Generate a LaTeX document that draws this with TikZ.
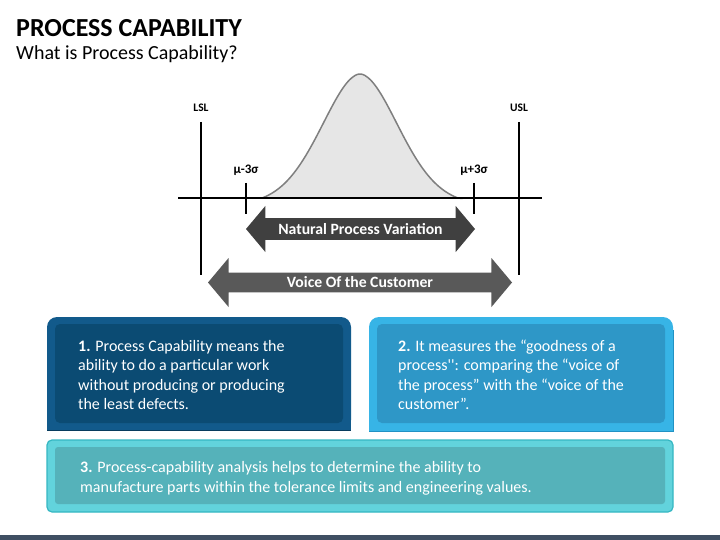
\documentclass[tikz,border=0pt]{standalone}
\usepackage{fontspec}
\setmainfont{Carlito}
\usetikzlibrary{positioning,shapes.arrows}

\definecolor{BellFill}{HTML}{E6E6E6}
\definecolor{BellLine}{HTML}{7F7F7F}
\definecolor{ArrowDark}{HTML}{404040}
\definecolor{ArrowMid}{HTML}{595959}
\definecolor{OneFrame}{HTML}{125A8B}
\definecolor{OneFill}{HTML}{0B4B73}
\definecolor{OneEdge}{HTML}{083C5E}
\definecolor{TwoFrame}{HTML}{37B4E6}
\definecolor{TwoFill}{HTML}{2E97C7}
\definecolor{TwoEdge}{HTML}{2192C4}
\definecolor{ThreeFrame}{HTML}{62D3DC}
\definecolor{ThreeFill}{HTML}{55B2BA}
\definecolor{ThreeEdge}{HTML}{35B7C2}
\definecolor{FootBar}{HTML}{3F4F63}

\tikzstyle{LimitLine}=[line width=1.8pt]
\tikzstyle{LimitLabel}=[inner sep=0pt, anchor=base, font=\fontsize{11.5}{13}\selectfont\bfseries]
\tikzstyle{SigmaLabel}=[LimitLabel, font=\fontsize{13}{15}\selectfont\bfseries]
\tikzstyle{SpanArrow}=[double arrow, double arrow tip angle=100, inner sep=0pt, text=white, font=\fontsize{15.7}{18}\selectfont\bfseries]
\tikzstyle{PointText}=[inner sep=0pt, anchor=base west, align=left, text=white, font=\fontsize{16}{19.5}\selectfont]

\begin{document}
\begin{tikzpicture}[x=1pt, y=-1pt]
			\useasboundingbox (0,0) rectangle (720,540);

			%Titles
			\node[inner sep=0pt, anchor=base west, font=\fontsize{26}{30}\selectfont\bfseries] (title) at (16,37) {PROCESS CAPABILITY};
			\node[inner sep=0pt, anchor=base west, font=\fontsize{20}{24}\selectfont] (subtitle) at (16,60) {What is Process Capability?};

			%Bell curve
			\filldraw[fill=BellFill, draw=BellLine, line width=1.5pt] (261,198) -- plot[domain=-98:98, samples=100] ({360+\x},{198-124*(exp(-pow(abs(\x)/55,1.86))-0.054)/0.946}) -- (457,198);

			%Axis and limits
			\coordinate (axisleft) at (178,198);
			\coordinate (axisright) at (542,198);
			\draw[LimitLine] (axisleft) -- (axisright);

			\node[LimitLabel] (lsl) at (201,112) {LSL};
			\node[LimitLabel] (usl) at (519,112) {USL};
			\node[SigmaLabel] (lowsigma) at (246,174) {μ-3σ};
			\node[SigmaLabel] (highsigma) at (474,174) {μ+3σ};

			\draw[LimitLine] (201,122) -- (201,275);
			\draw[LimitLine] (519,122) -- (519,275);
			\draw[LimitLine] (246,183) -- (246,214);
			\draw[LimitLine] (474,183) -- (474,214);

			%Arrows
			\node[SpanArrow, fill=ArrowDark, minimum height=229pt, minimum width=46pt, double arrow head extend=6.5pt] (natural) at (360.5,229) {Natural Process Variation};
			\node[SpanArrow, fill=ArrowMid, minimum height=304pt, minimum width=49pt, double arrow head extend=8.5pt] (voice) at (360,282.5) {Voice Of the Customer};

			%Boxes
			\fill[OneFrame, rounded corners=10pt] (47,317) rectangle (351,430);
			\fill[OneFrame] (47,400) rectangle (351,430);
			\draw[OneEdge, line width=1pt] (47,430) -- (351,430);
			\fill[OneFill, rounded corners=5pt] (55,324) rectangle (343,423);

			\fill[TwoFrame, rounded corners=10pt] (369,317) rectangle (673,431);
			\fill[TwoFrame] (369,400) rectangle (673,431);
			\draw[TwoEdge, line width=1pt] (369,431) -- (673,431) -- (673,330);
			\fill[TwoFill, rounded corners=5pt] (377,324) rectangle (665,423);

			\filldraw[fill=ThreeFrame, draw=ThreeEdge, line width=1.2pt, rounded corners=5pt] (47,440) rectangle (673,512);
			\fill[ThreeFill, rounded corners=3pt] (55,447) rectangle (665,504);

			%Texts (anchored at the last baseline)
			\node[PointText] (pointone) at (78,409.5) {\textbf{1.} Process Capability means the\\ability to do a particular work\\without producing or producing\\the least defects.};
			\node[PointText] (pointtwo) at (398,409.5) {\textbf{2.} It measures the “goodness of a\\process\textquotesingle\textquotesingle: comparing the “voice of\\the process” with the “voice of the\\customer”.};
			\node[PointText, font=\fontsize{16}{20}\selectfont] (pointthree) at (80,492) {\textbf{3.} Process-capability analysis helps to determine the ability to\\manufacture parts within the tolerance limits and engineering values.};

			%Footer
			\fill[FootBar] (0,535) rectangle (720,540);
\end{tikzpicture}
\end{document}
